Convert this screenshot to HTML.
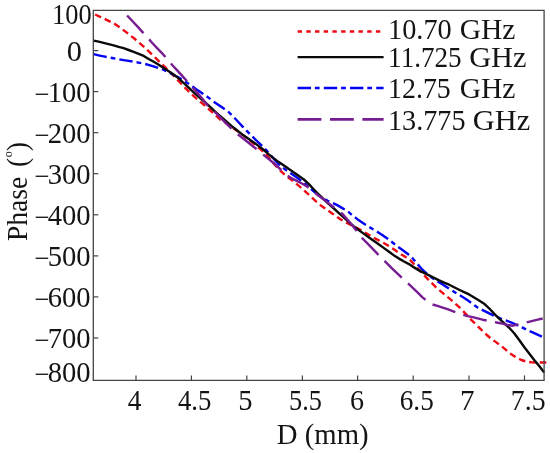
<!DOCTYPE html>
<html lang="en"><head><meta charset="utf-8"><title>Phase vs D</title>
<style>
html,body{margin:0;padding:0;background:#fff}
svg{display:block}
text{font-family:"Liberation Serif","Times New Roman",serif;fill:#141414}
.c{fill:none;stroke-width:2.4;stroke-linejoin:round}
</style></head><body>
<svg width="550" height="453" viewBox="0 0 550 453">
<rect x="0" y="0" width="550" height="453" fill="#fff"/>

<polyline class="c" points="95.1,14.5 100.1,16.8 105.1,19.1 110.1,21.6 115.2,24.2 120.2,27.8 125.2,31.4 130.2,35.4 135.2,39.3 140.2,43.6 145.2,47.9 150.3,52.9 155.3,57.7 160.3,62.7 165.3,67.4 170.3,72.4 175.3,77.5 180.3,82.7 185.4,88.1 190.4,93.1 195.4,97.7 200.4,101.9 205.4,106.1 210.4,110.5 215.4,114.9 220.5,120.0 225.5,122.8 230.5,126.2 235.5,129.7 240.5,133.4 245.5,137.1 250.5,141.1 255.6,145.1 260.6,149.4 265.6,153.9 270.6,159.9 275.6,165.7 280.6,170.8 285.6,175.6 290.7,179.3 295.7,183.3 300.7,187.4 305.7,191.9 310.7,196.5 315.7,201.1 320.8,205.4 325.8,208.9 330.8,212.4 335.8,216.0 340.8,219.5 345.8,222.4 350.8,225.0 355.9,227.5 360.9,230.1 365.9,233.1 370.9,236.0 375.9,238.9 380.9,241.5 385.9,244.2 391.0,247.4 396.0,250.8 401.0,254.2 406.0,257.3 411.0,260.9 416.0,266.5 421.0,272.1 426.1,277.3 431.1,282.4 436.1,287.3 441.1,291.6 446.1,295.7 451.1,299.9 456.1,304.4 461.2,309.0 466.2,314.4 471.2,319.9 476.2,324.7 481.2,329.6 486.2,334.5 491.2,338.7 496.3,342.4 501.3,346.0 506.3,350.2 511.3,354.2 516.3,357.6 521.3,360.0 526.3,361.6 531.4,362.3 536.4,362.5 541.4,362.5 546.4,362.5" stroke="#ee0a14" stroke-dasharray="6.57 4"/>
<polyline class="c" points="93.6,54.2 98.6,55.3 103.6,56.4 108.5,57.4 113.5,58.3 118.5,59.2 123.5,60.1 128.5,60.9 133.5,61.7 138.4,62.6 143.4,63.5 148.4,64.8 153.4,66.3 158.4,67.9 163.4,69.6 168.3,72.2 173.3,74.7 178.3,77.2 183.3,80.3 188.3,83.5 193.2,87.0 198.2,90.6 203.2,94.0 208.2,97.4 213.2,101.3 218.2,104.7 223.1,108.1 228.1,111.5 233.1,116.4 238.1,121.7 243.1,127.1 248.0,132.2 253.0,137.2 258.0,142.1 263.0,146.8 268.0,152.1 273.0,157.9 277.9,163.5 282.9,167.7 287.9,171.4 292.9,174.7 297.9,178.2 302.9,182.0 307.8,186.1 312.8,190.5 317.8,194.7 322.8,198.2 327.8,200.8 332.7,203.0 337.7,205.4 342.7,208.4 347.7,211.3 352.7,215.6 357.7,219.4 362.6,222.8 367.6,226.1 372.6,229.0 377.6,232.0 382.6,235.3 387.6,238.8 392.5,242.5 397.5,246.4 402.5,250.0 407.5,253.7 412.5,258.2 417.4,263.9 422.4,269.7 427.4,274.3 432.4,278.0 437.4,281.3 442.4,284.3 447.3,287.5 452.3,290.6 457.3,293.8 462.3,296.8 467.3,300.0 472.2,303.5 477.2,307.3 482.2,309.9 487.2,312.4 492.2,314.9 497.2,317.1 502.1,319.1 507.1,320.9 512.1,322.8 517.1,325.1 522.1,327.4 527.1,330.0 532.0,332.2 537.0,334.4 542.0,336.7" stroke="#0202f4" stroke-dasharray="13.4 4.06 4.75 4.06"/>
<polyline class="c" points="93.6,40.6 98.6,41.7 103.6,42.9 108.6,44.2 113.6,45.4 118.6,46.8 123.6,48.2 128.6,50.0 133.7,51.8 138.7,53.8 143.7,55.9 148.7,59.0 153.7,61.8 158.7,64.7 163.7,68.0 168.7,71.3 173.7,74.6 178.7,78.3 183.7,83.0 188.7,87.7 193.7,92.3 198.7,96.8 203.7,101.2 208.8,105.7 213.8,110.4 218.8,114.8 223.8,119.2 228.8,123.6 233.8,127.8 238.8,131.8 243.8,135.6 248.8,139.0 253.8,142.4 258.8,146.1 263.8,150.0 268.8,154.4 273.8,158.4 278.8,162.1 283.9,165.6 288.9,169.1 293.9,172.4 298.9,175.9 303.9,179.5 308.9,184.1 313.9,189.5 318.9,194.5 323.9,199.3 328.9,204.1 333.9,208.5 338.9,213.1 343.9,217.7 348.9,222.1 353.9,226.4 359.0,230.3 364.0,233.9 369.0,237.4 374.0,241.0 379.0,244.5 384.0,248.1 389.0,251.8 394.0,255.4 399.0,258.6 404.0,261.5 409.0,264.1 414.0,267.4 419.0,270.4 424.0,272.9 429.0,275.4 434.1,277.9 439.1,280.4 444.1,282.7 449.1,284.7 454.1,287.2 459.1,289.7 464.1,292.1 469.1,294.4 474.1,297.5 479.1,300.6 484.1,303.7 489.1,308.3 494.1,313.6 499.1,318.6 504.1,323.1 509.2,327.8 514.2,333.2 519.2,340.0 524.2,347.0 529.2,353.5 534.2,359.9 539.2,366.1 544.2,372.4" stroke="#0a0a0a" stroke-width="2.3"/>
<polyline class="c" points="127.1,15.5 132.1,20.8 137.1,26.1 142.1,31.6 147.1,37.2 152.1,42.7 157.1,48.1 162.2,53.4 167.2,58.9 172.2,65.0 177.2,70.4 182.2,75.9 187.2,81.4 192.2,86.8 197.2,92.6 202.2,98.6 207.2,105.1 212.2,109.8 217.2,114.2 222.2,119.3 227.2,124.4 232.3,129.3 237.3,133.9 242.3,137.9 247.3,141.8 252.3,145.7 257.3,149.8 262.3,153.9 267.3,157.9 272.3,162.0 277.3,166.4 282.3,171.0 287.3,175.4 292.3,178.7 297.3,181.1 302.4,183.7 307.4,186.8 312.4,190.7 317.4,194.7 322.4,198.5 327.4,202.4 332.4,206.2 337.4,210.0 342.4,213.9 347.4,219.6 352.4,225.6 357.4,231.8 362.4,238.4 367.4,243.4 372.5,248.7 377.5,253.9 382.5,258.8 387.5,263.9 392.5,268.8 397.5,273.6 402.5,278.3 407.5,282.8 412.5,287.6 417.5,292.4 422.5,297.4 427.5,301.1 432.5,304.5 437.5,305.9 442.6,307.6 447.6,309.2 452.6,311.1 457.6,312.9 462.6,314.7 467.6,316.1 472.6,317.1 477.6,318.4 482.6,319.7 487.6,320.7 492.6,321.7 497.6,322.7 502.6,323.6 507.6,325.0 512.7,325.7 517.7,324.6 522.7,323.4 527.7,322.1 532.7,320.9 537.7,319.7 542.7,318.5" stroke="#781c92" stroke-dasharray="24 8.5"/>
<path d="M93.3,380.4 V10.45 H544.1 V380.4 Z" fill="none" stroke="#444444" stroke-width="1.3"/>
<line x1="93.3" x2="98.3" y1="50.6" y2="50.6" stroke="#444444" stroke-width="1.2"/>
<line x1="93.3" x2="98.3" y1="91.6" y2="91.6" stroke="#444444" stroke-width="1.2"/>
<line x1="93.3" x2="98.3" y1="132.7" y2="132.7" stroke="#444444" stroke-width="1.2"/>
<line x1="93.3" x2="98.3" y1="173.7" y2="173.7" stroke="#444444" stroke-width="1.2"/>
<line x1="93.3" x2="98.3" y1="214.8" y2="214.8" stroke="#444444" stroke-width="1.2"/>
<line x1="93.3" x2="98.3" y1="255.9" y2="255.9" stroke="#444444" stroke-width="1.2"/>
<line x1="93.3" x2="98.3" y1="296.9" y2="296.9" stroke="#444444" stroke-width="1.2"/>
<line x1="93.3" x2="98.3" y1="338.0" y2="338.0" stroke="#444444" stroke-width="1.2"/>
<line x1="136" x2="136" y1="380.4" y2="375.4" stroke="#444444" stroke-width="1.2"/>
<line x1="191.4" x2="191.4" y1="380.4" y2="375.4" stroke="#444444" stroke-width="1.2"/>
<line x1="246.8" x2="246.8" y1="380.4" y2="375.4" stroke="#444444" stroke-width="1.2"/>
<line x1="302.4" x2="302.4" y1="380.4" y2="375.4" stroke="#444444" stroke-width="1.2"/>
<line x1="357.6" x2="357.6" y1="380.4" y2="375.4" stroke="#444444" stroke-width="1.2"/>
<line x1="413.2" x2="413.2" y1="380.4" y2="375.4" stroke="#444444" stroke-width="1.2"/>
<line x1="469" x2="469" y1="380.4" y2="375.4" stroke="#444444" stroke-width="1.2"/>
<line x1="524.5" x2="524.5" y1="380.4" y2="375.4" stroke="#444444" stroke-width="1.2"/>
<text transform="translate(52.00,23.80) scale(0.8800,1)" font-size="30">100</text>
<text transform="translate(66.84,60.80) scale(1.0142,1)" font-size="30">0</text>
<text transform="translate(47.66,101.72) scale(0.9540,1)" font-size="30">100</text>
<text x="34.16" y="102.74" font-size="26.88">−</text>
<text transform="translate(47.66,142.78) scale(0.9540,1)" font-size="30">200</text>
<text x="34.16" y="143.80" font-size="26.88">−</text>
<text transform="translate(47.66,183.84) scale(0.9540,1)" font-size="30">300</text>
<text x="34.16" y="184.86" font-size="26.88">−</text>
<text transform="translate(47.66,224.90) scale(0.9540,1)" font-size="30">400</text>
<text x="34.16" y="225.92" font-size="26.88">−</text>
<text transform="translate(47.66,265.96) scale(0.9540,1)" font-size="30">500</text>
<text x="34.16" y="266.98" font-size="26.88">−</text>
<text transform="translate(47.66,307.02) scale(0.9540,1)" font-size="30">600</text>
<text x="34.16" y="308.04" font-size="26.88">−</text>
<text transform="translate(47.66,348.08) scale(0.9540,1)" font-size="30">700</text>
<text x="34.16" y="349.10" font-size="26.88">−</text>
<text transform="translate(47.66,381.50) scale(0.9540,1)" font-size="30">800</text>
<text x="34.16" y="382.52" font-size="26.88">−</text>
<text transform="translate(127.65,409.70) scale(0.9124,1)" font-size="30">4</text>
<text transform="translate(177.96,409.70) scale(0.8928,1)" font-size="30">4.5</text>
<text transform="translate(238.34,409.70) scale(0.9512,1)" font-size="30">5</text>
<text transform="translate(288.97,409.70) scale(0.8789,1)" font-size="30">5.5</text>
<text transform="translate(350.09,409.70) scale(0.9368,1)" font-size="30">6</text>
<text transform="translate(399.73,409.70) scale(0.9075,1)" font-size="30">6.5</text>
<text transform="translate(459.88,409.70) scale(0.9712,1)" font-size="30">7</text>
<text transform="translate(510.87,409.70) scale(0.9258,1)" font-size="30">7.5</text>
<text transform="translate(276.77,443.80) scale(0.9922,1)" font-size="29">D (mm)</text>
<text transform="translate(27.1,241.1) rotate(-90) scale(0.937,1)" font-size="29.5"><tspan x="0">Phase </tspan><tspan x="78.98">(</tspan><tspan x="89.54" font-size="13" dy="-15.4">o</tspan><tspan x="95.94" dy="15.4">)</tspan></text>
<line x1="297.6" x2="380.3" y1="31.4" y2="31.4" stroke="#ee0a14" stroke-width="2.5" stroke-dasharray="4.4 4.3"/>
<line x1="297.6" x2="383.6" y1="57.2" y2="57.2" stroke="#0a0a0a" stroke-width="2.3"/>
<line x1="297.6" x2="383.6" y1="87.9" y2="87.9" stroke="#0202f4" stroke-width="2.5" stroke-dasharray="13.4 3.9 4.7 4.2"/>
<line x1="297.6" x2="383.6" y1="119.4" y2="119.4" stroke="#781c92" stroke-width="2.6" stroke-dasharray="23.8 8.6"/>
<text transform="translate(388.01,39.40) scale(0.9773,1)" font-size="29">10.70</text>
<text transform="translate(459.69,39.40) scale(1.0199,1)" font-size="29">GHz</text>
<text transform="translate(388.11,67.10) scale(0.9347,1)" font-size="29">11.725</text>
<text transform="translate(469.16,67.10) scale(1.0464,1)" font-size="29">GHz</text>
<text transform="translate(388.05,97.70) scale(0.9616,1)" font-size="29">12.75</text>
<text transform="translate(459.69,97.70) scale(1.0199,1)" font-size="29">GHz</text>
<text transform="translate(388.02,129.70) scale(0.9728,1)" font-size="29">13.775</text>
<text transform="translate(472.75,129.70) scale(1.0483,1)" font-size="29">GHz</text>
</svg></body></html>
